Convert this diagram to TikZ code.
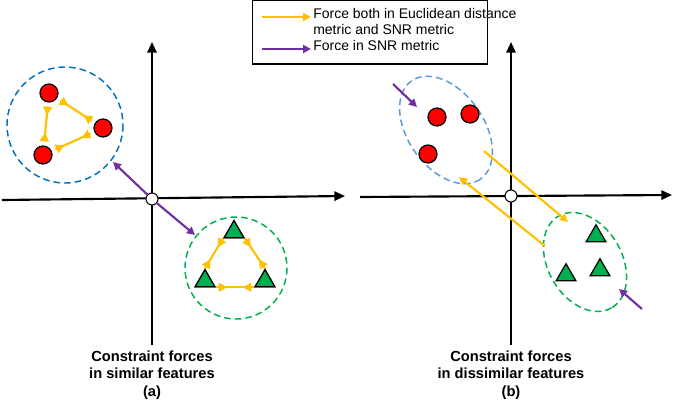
\documentclass[tikz,border=0pt]{standalone}
\usepackage{fontspec}
\setmainfont{Liberation Sans}
\usetikzlibrary{arrows.meta,decorations.markings,shapes.geometric}
\definecolor{yel}{HTML}{FFC000}
\definecolor{pur}{HTML}{7030A0}
\definecolor{blu}{HTML}{0070C0}
\definecolor{lblu}{HTML}{5B9BD5}
\definecolor{grn}{HTML}{00B050}
\begin{document}
\begin{tikzpicture}[x=0.75pt,y=-0.75pt,
 axis/.style={line width=1.6pt,-{Triangle[length=8pt,width=7pt]}},
 orig/.style={circle,draw,fill=white,line width=0.8pt,minimum size=9pt,inner sep=0},
 red/.style={circle,draw,fill=red,line width=0.9pt,minimum size=13.5pt,inner sep=0},
 tri/.style={regular polygon,regular polygon sides=3,draw,fill=grn,line width=0.9pt,minimum size=17pt,inner sep=0},
 yarr/.style={yel,line width=1.6pt,-{Triangle[length=6pt,width=6pt]}},
 parr/.style={pur,line width=1.6pt,-{Triangle[length=6pt,width=6pt]}},
 att/.style={yel,line width=1.6pt,shorten <=3pt,shorten >=3pt,postaction={decorate},
  decoration={markings,mark=at position 0.3 with {\arrow{Triangle[length=6.5pt,width=6.5pt]}},
  mark=at position 0.7 with {\arrowreversed{Triangle[length=6.5pt,width=6.5pt]}}}},
 tatt/.style={att,shorten <=0pt,shorten >=0pt},
 lbl/.style={align=center,font=\bfseries\fontsize{11}{13}\selectfont},
 dsh/.style={dashed,dash pattern=on 5pt off 3pt,line width=1.1pt}]
\useasboundingbox (0,0) rectangle (685,418);
% left panel
\coordinate (lb) at (152,345); \coordinate (lt) at (152,42);
\coordinate (ll) at (2,200); \coordinate (lr) at (345,196);
\draw[axis] (lb) -- (lt);
\draw[axis] (ll) -- (lr);
\node[orig] (o1) at (152,199) {};
\draw[dsh,blu] (65,125) circle (58);
\draw[dsh,grn] (236,268) circle (51);
\node[red] (r1) at (49,93) {};
\node[red] (r2) at (103,128) {};
\node[red] (r3) at (43,155) {};
\draw[att] (r1) -- (r2);
\draw[att] (r1) -- (r3);
\draw[att] (r3) -- (r2);
\node[tri] (t1) at (234,232) {};
\node[tri] (t2) at (205,281) {};
\node[tri] (t3) at (265,281) {};
\draw[tatt] (t1.corner 2) -- (t2.corner 1);
\draw[tatt] (t1.corner 3) -- (t3.corner 1);
\draw[tatt] (t2.corner 3) -- (t3.corner 2);
\node[tri] at (t1) {};
\node[tri] at (t2) {};
\node[tri] at (t3) {};
\coordinate (p1) at (113,162); \coordinate (p2) at (195,235);
\draw[parr] (o1) -- (p1);
\draw[parr] (o1) -- (p2);
\node[lbl] (la) at (152,375) {Constraint forces\\in similar features\\(a)};
% right panel
\coordinate (rb) at (511,345); \coordinate (rt) at (511,42);
\coordinate (rl) at (360,197); \coordinate (rr) at (672,195);
\draw[axis] (rb) -- (rt);
\draw[axis] (rl) -- (rr);
\node[orig] (o2) at (511,196) {};
\draw[dsh,lblu,rotate around={-55:(446,130)}] (446,130) ellipse (60 and 38);
\draw[dsh,grn,rotate around={-60:(585,262)}] (585,262) ellipse (53 and 37);
\node[red] (r4) at (437,117) {};
\node[red] (r5) at (470,114) {};
\node[red] (r6) at (428,154) {};
\node[tri] (t4) at (596,236) {};
\node[tri] (t5) at (566,275) {};
\node[tri] (t6) at (600,270) {};
\coordinate (y1s) at (484,151); \coordinate (y1e) at (568,222);
\coordinate (y2s) at (545,246); \coordinate (y2e) at (459,177);
\draw[yarr] (y1s) -- (y1e);
\draw[yarr] (y2s) -- (y2e);
\coordinate (q1s) at (393,84); \coordinate (q1e) at (417,107);
\coordinate (q2s) at (642,309); \coordinate (q2e) at (619,289);
\draw[parr] (q1s) -- (q1e);
\draw[parr] (q2s) -- (q2e);
\node[lbl] (lbb) at (511,375) {Constraint forces\\in dissimilar features\\(b)};
% legend
\node[draw,line width=0.8pt,inner sep=0,minimum width=176pt,minimum height=48pt] (box) at (370,32) {};
\coordinate (a1s) at (262,17); \coordinate (a1e) at (311,17);
\coordinate (a2s) at (262,49); \coordinate (a2e) at (311,49);
\draw[yarr] (a1s) -- (a1e);
\draw[parr] (a2s) -- (a2e);
\node[anchor=north west,align=left,inner sep=0,font=\fontsize{10.5}{12}\selectfont] (lt1) at (313,8) {Force both in Euclidean distance\\metric and SNR metric\\Force in SNR metric};
\end{tikzpicture}
\end{document}
